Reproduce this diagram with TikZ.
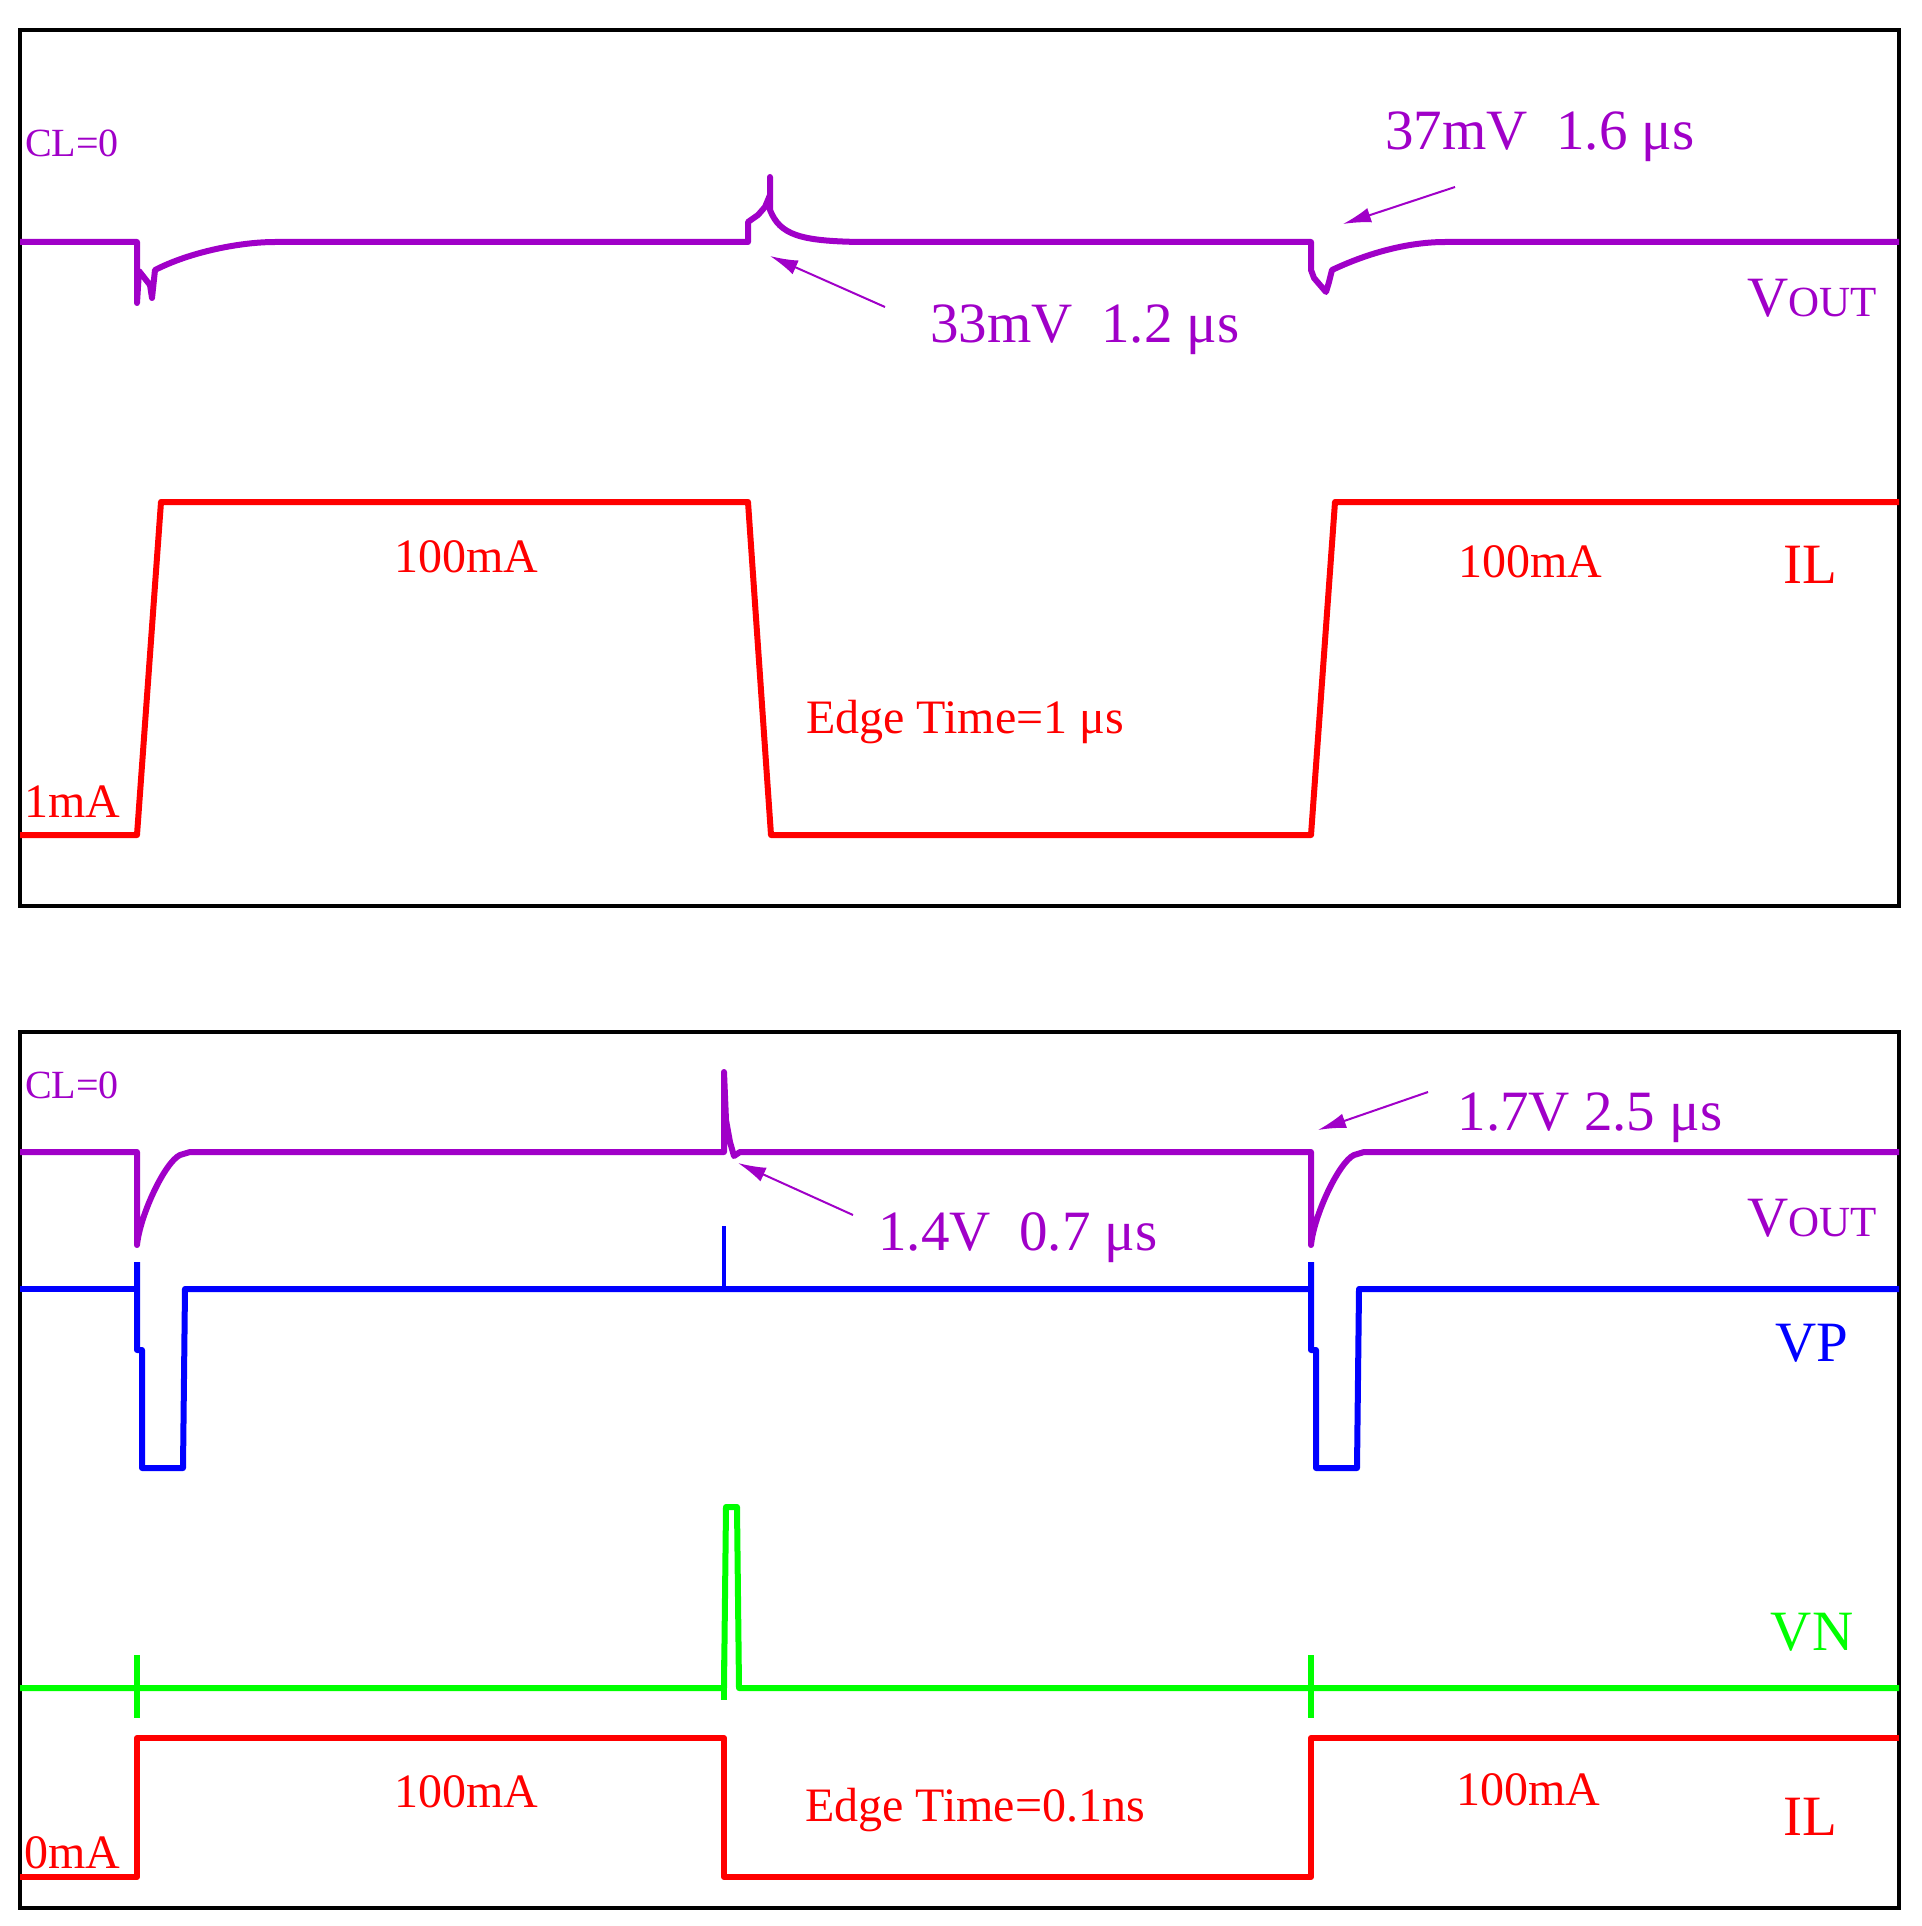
\documentclass[tikz,border=0pt]{standalone}
\usepackage{fontspec}
\setmainfont{Liberation Serif}
\definecolor{pur}{HTML}{A000C8}
\begin{document}
\begin{tikzpicture}[x=1pt,y=-1pt,
  box/.style={line width=4.5pt,black},
  w/.style={line width=6pt,line join=round},
  arr/.style={pur,line width=2pt,-{Latex[length=28pt,width=15pt]}},
  big/.style={font=\fontsize{57}{57}\selectfont,inner sep=0pt},
  mid/.style={font=\fontsize{48}{48}\selectfont,inner sep=0pt},
  sm/.style={font=\fontsize{40}{40}\selectfont,inner sep=0pt}]
\useasboundingbox (0,0) rectangle (1921,1926);
\usetikzlibrary{arrows.meta}
\draw[box] (20,30) rectangle (1899,906);
\draw[box] (20,1032) rectangle (1899,1908);
% top VOUT
\draw[w,pur] (20,242) -- (137,242) -- (137,303) -- (139,271) -- (150,285) -- (152,298) -- (155,270)
  .. controls (190,252) and (240,242) .. (275,242) -- (748,242) -- (748,222) -- (758,215) -- (765,207) -- (770,195) -- (770,177) -- (770,210)
  .. controls (780,235) and (800,241) .. (860,242) -- (1311,242) -- (1311,270) -- (1314,278) -- (1326,292) -- (1329,282)-- (1332,270)
  .. controls (1370,252) and (1410,242) .. (1445,242) -- (1899,242);
% top IL
\draw[w,red] (20,835) -- (137,835) -- (161,502) -- (748,502) -- (771,835) -- (1311,835) -- (1335,502) -- (1899,502);
\draw[arr] (885,307) -- (770,256);
\draw[arr] (1455,187) -- (1343,224);
\node[big,pur] (t1) at (1540,137) {37mV\ \ 1.6 μs};
\node[big,pur] (t2) at (1085,330) {33mV\ \ 1.2 μs};
\node[big,pur] (t3) at (1812,298) {V\fontsize{43}{43}\selectfont OUT};
\node[sm,pur] (t4) at (72,143) {CL=0};
\node[mid,red] (t5) at (466,557) {100mA};
\node[mid,red] (t6) at (1530,562) {100mA};
\node[big,red] (t7) at (1810,565) {IL};
\node[mid,red] (t8) at (965,722) {Edge Time=1 μs};
\node[mid,red] (t9) at (72,802) {1mA};
% bottom VOUT
\draw[w,pur] (20,1152) -- (137,1152) -- (137,1245) .. controls (140,1215) and (165,1162) .. (180,1155) -- (190,1152) -- (724,1152) -- (724,1072) -- (726,1120) -- (730,1142) -- (734,1156) -- (740,1152) -- (1311,1152) -- (1311,1245) .. controls (1314,1215) and (1339,1162) .. (1354,1155) -- (1364,1152) -- (1899,1152);
% VP
\draw[w,blue] (20,1289) -- (137,1289);
\draw[w,blue] (137,1262) -- (137,1350) -- (142,1350) -- (142,1468) -- (183,1468) -- (185,1289) -- (1311,1289);
\draw[w,blue,line width=4pt] (724,1226) -- (724,1289);
\draw[w,blue] (1311,1262) -- (1311,1350) -- (1316,1350) -- (1316,1468) -- (1357,1468) -- (1359,1289) -- (1899,1289);
% VN
\draw[w,green] (20,1688) -- (724,1688) -- (726,1507) -- (737,1507) -- (739,1688) -- (1899,1688);
\draw[w,green] (137,1655) -- (137,1718);
\draw[w,green] (724,1660) -- (724,1700);
\draw[w,green] (1311,1655) -- (1311,1718);
% bottom IL
\draw[w,red] (20,1877) -- (137,1877) -- (137,1738) -- (724,1738) -- (724,1877) -- (1311,1877) -- (1311,1738) -- (1899,1738);
\draw[arr] (853,1215) -- (738,1163);
\draw[arr] (1428,1092) -- (1318,1130);
\node[sm,pur] (b1) at (72,1085) {CL=0};
\node[big,pur] (b2) at (1590,1118) {1.7V 2.5 μs};
\node[big,pur] (b3) at (1018,1238) {1.4V\ \ 0.7 μs};
\node[big,pur] (b4) at (1812,1218) {V\fontsize{43}{43}\selectfont OUT};
\node[big,blue] (b5) at (1812,1343) {VP};
\node[big,green] (b6) at (1812,1632) {VN};
\node[mid,red] (b7) at (466,1792) {100mA};
\node[mid,red] (b8) at (1528,1790) {100mA};
\node[mid,red] (b9) at (975,1810) {Edge Time=0.1ns};
\node[big,red] (b10) at (1810,1817) {IL};
\node[mid,red] (b11) at (72,1853) {0mA};
\end{tikzpicture}
\end{document}
